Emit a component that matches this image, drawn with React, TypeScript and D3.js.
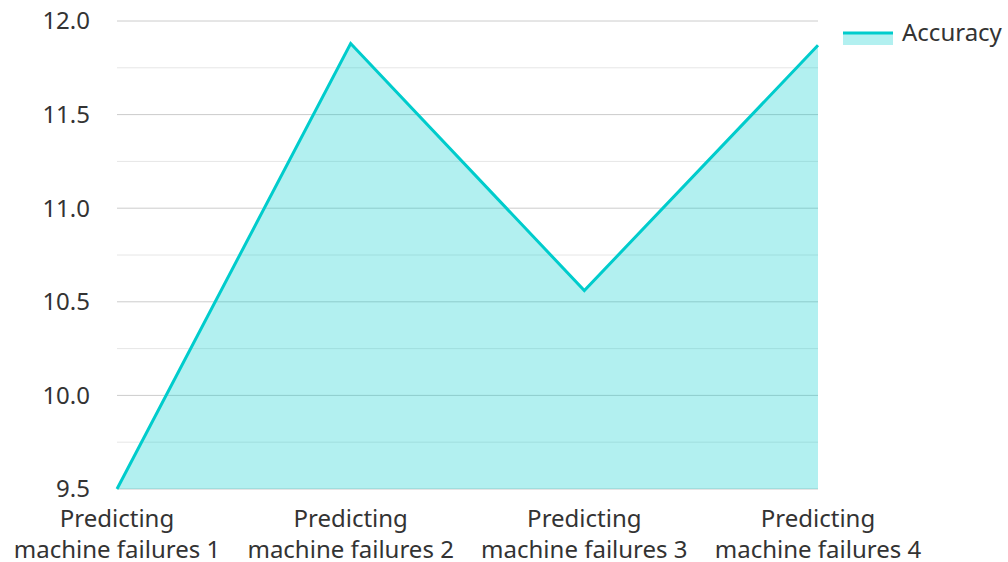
import React, { useEffect, useRef } from 'react';
import * as d3 from 'd3';

const categories = [
  'Predicting machine failures 1',
  'Predicting machine failures 2',
  'Predicting machine failures 3',
  'Predicting machine failures 4',
];
const accuracy = [9.5, 11.88, 10.56, 11.87];
const majorTicks = [9.5, 10.0, 10.5, 11.0, 11.5, 12.0];
const minorTicks = [9.75, 10.25, 10.75, 11.25, 11.75];

const App = () => {
  const svgRef = useRef<SVGSVGElement | null>(null);

  useEffect(() => {
    const width = 1008;
    const height = 562;
    const margin = { top: 21, right: 190, bottom: 73, left: 117 };
    const innerWidth = width - margin.left - margin.right;
    const innerHeight = height - margin.top - margin.bottom;
    const font = '"Noto Sans", "Open Sans", sans-serif';
    const color = '#00cccc';
    const fs = '24px';

    const svg = d3.select(svgRef.current);
    svg.selectAll('*').remove();

    const g = svg.append('g').attr('transform', `translate(${margin.left},${margin.top})`);

    const x = d3.scalePoint<string>().domain(categories).range([0, innerWidth]);
    const y = d3.scaleLinear().domain([9.5, 12]).range([innerHeight, 0]);

    // grid
    g.append('g')
      .selectAll('line')
      .data(minorTicks)
      .enter()
      .append('line')
      .attr('x1', 0)
      .attr('x2', innerWidth)
      .attr('y1', d => y(d))
      .attr('y2', d => y(d))
      .attr('stroke', '#e6e6e6')
      .attr('stroke-width', 1);

    g.append('g')
      .selectAll('line')
      .data(majorTicks)
      .enter()
      .append('line')
      .attr('x1', 0)
      .attr('x2', innerWidth)
      .attr('y1', d => y(d))
      .attr('y2', d => y(d))
      .attr('stroke', '#cccccc')
      .attr('stroke-width', 1);

    const data = categories.map((c, i) => ({ c, v: accuracy[i] }));

    const area = d3.area<{ c: string; v: number }>()
      .x(d => x(d.c)!)
      .y0(innerHeight)
      .y1(d => y(d.v));

    const line = d3.line<{ c: string; v: number }>()
      .x(d => x(d.c)!)
      .y(d => y(d.v));

    g.append('path')
      .datum(data)
      .attr('fill', color)
      .attr('fill-opacity', 0.3)
      .attr('d', area);

    g.append('path')
      .datum(data)
      .attr('fill', 'none')
      .attr('stroke', color)
      .attr('stroke-width', 3)
      .attr('d', line);

    // y labels
    g.append('g')
      .selectAll('text')
      .data(majorTicks)
      .enter()
      .append('text')
      .attr('x', -27)
      .attr('y', d => y(d))
      .attr('dy', '0.35em')
      .attr('text-anchor', 'end')
      .attr('font-family', font)
      .attr('font-size', fs)
      .attr('fill', '#333')
      .text(d => d3.format('.1f')(d));

    // x labels
    const xl = g.append('g')
      .selectAll('text')
      .data(categories)
      .enter()
      .append('text')
      .attr('x', d => x(d)!)
      .attr('y', innerHeight + 38)
      .attr('text-anchor', 'middle')
      .attr('font-family', font)
      .attr('font-size', fs)
      .attr('fill', '#333');
    xl.append('tspan').attr('x', d => x(d)!).text('Predicting');
    xl.append('tspan')
      .attr('x', d => x(d)!)
      .attr('dy', 31)
      .text(d => d.replace('Predicting ', ''));

    // legend
    const lg = svg.append('g').attr('transform', 'translate(843,33)');
    lg.append('rect').attr('x', 0).attr('y', 0).attr('width', 50).attr('height', 12)
      .attr('fill', color).attr('fill-opacity', 0.3);
    lg.append('line').attr('x1', 0).attr('x2', 50).attr('y1', 0).attr('y2', 0)
      .attr('stroke', color).attr('stroke-width', 3);
    lg.append('text')
      .attr('x', 59)
      .attr('y', 0)
      .attr('dy', '0.35em')
      .attr('font-family', font)
      .attr('font-size', fs)
      .attr('fill', '#333')
      .text('Accuracy');
  }, []);

  return (
    <svg
      ref={svgRef}
      width={1008}
      height={562}
      style={{ position: 'absolute', left: 0, top: 0, background: 'white' }}
    />
  );
};

export default App;
